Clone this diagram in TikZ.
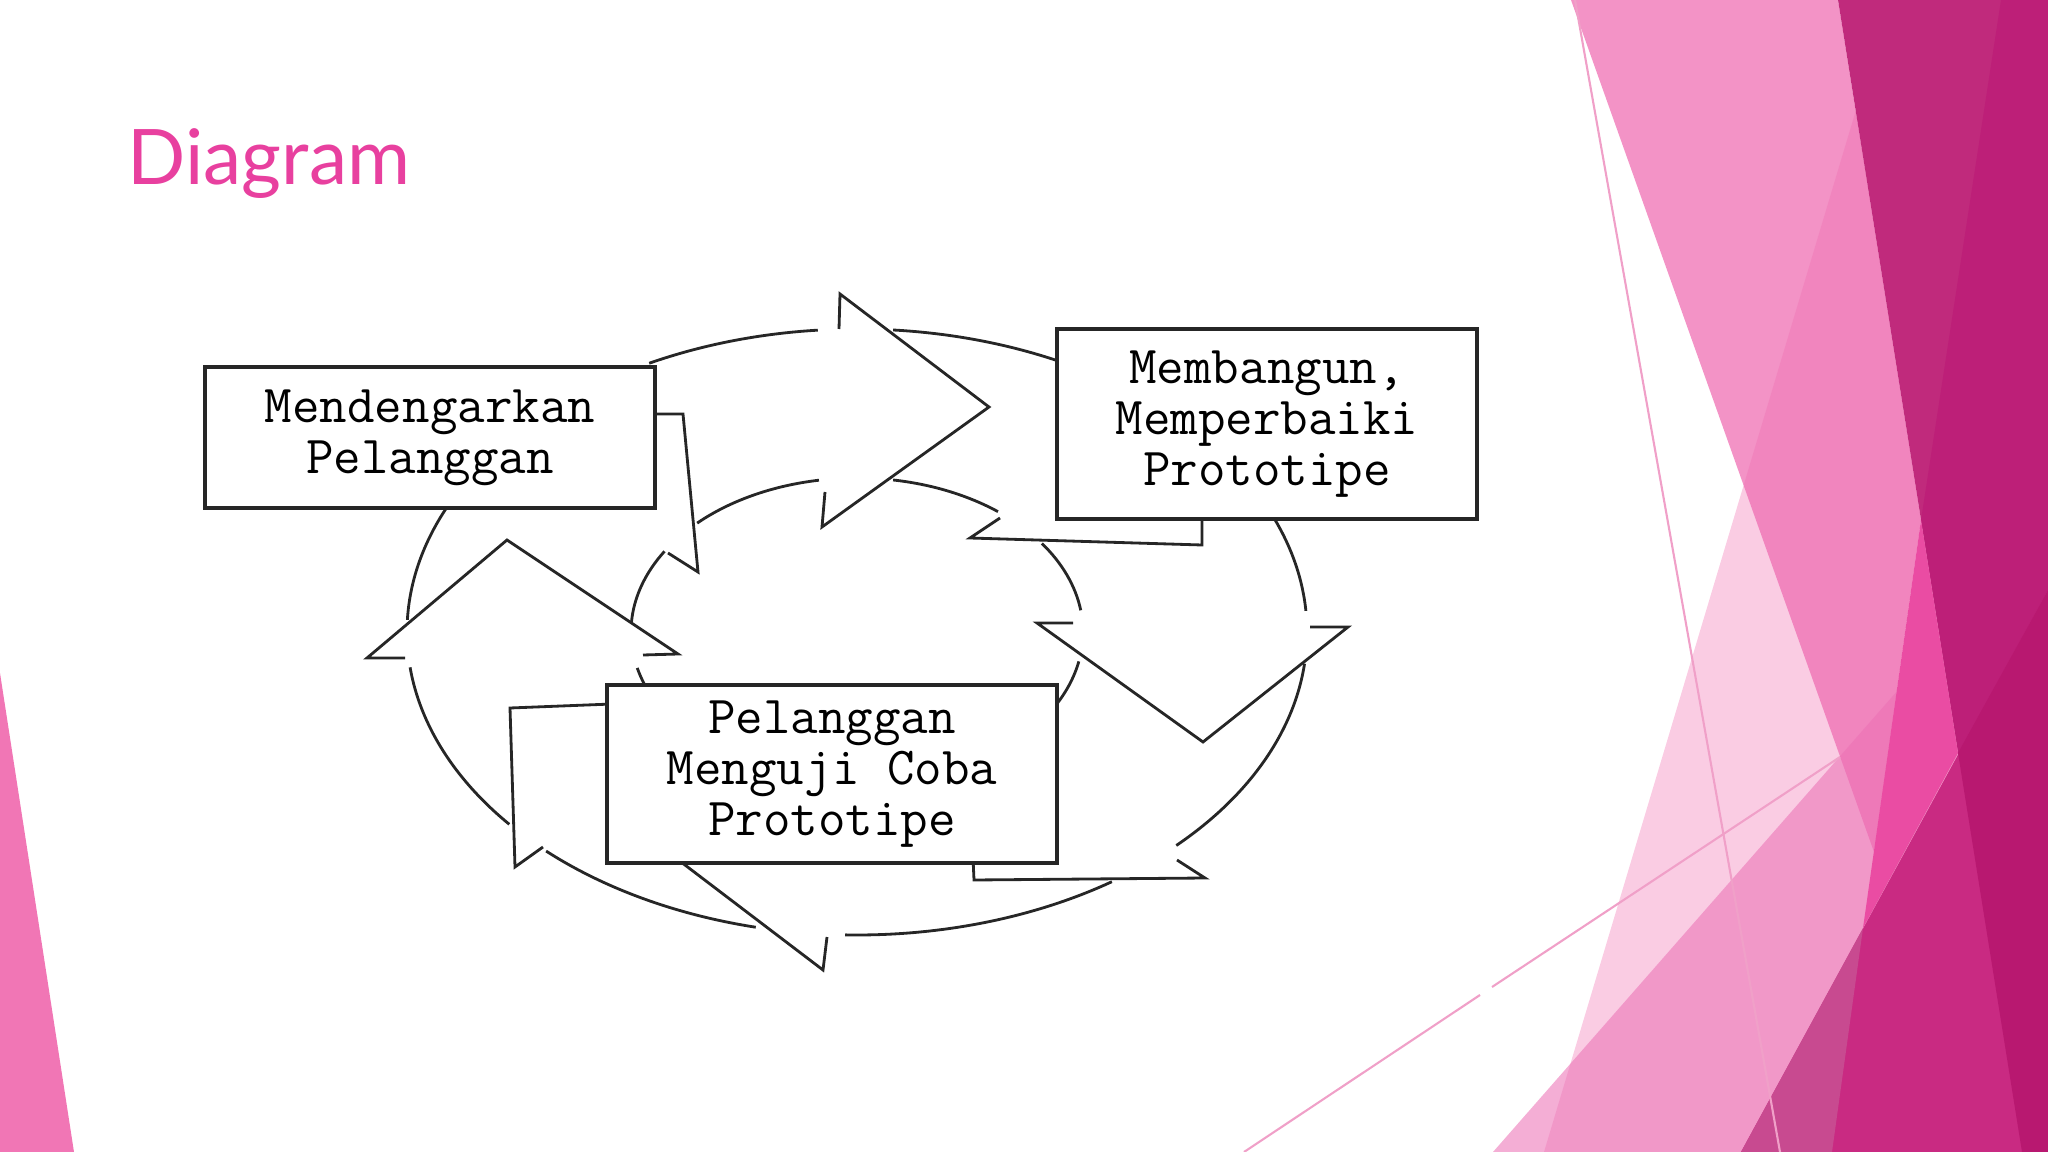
\documentclass[tikz,border=0pt]{standalone}
\usepackage{fontspec}
\newfontfamily\titlefont{Lato}

\definecolor{titlepink}{HTML}{E8409F}
\definecolor{pinkmid}{HTML}{F393C6}
\definecolor{pinktri}{HTML}{F06CB0}
\definecolor{pinkband}{HTML}{EC70B5}
\definecolor{pinkbright}{HTML}{EA4CA3}
\definecolor{pinkleft}{HTML}{F176B5}
\definecolor{thinpink}{HTML}{F0A0C8}
\definecolor{magA}{HTML}{C02A7C}
\definecolor{magB}{HTML}{BD1F78}
\definecolor{magC}{HTML}{C92A82}
\definecolor{magD}{HTML}{B81870}
\definecolor{magE}{HTML}{C84A90}

\begin{document}
\begin{tikzpicture}[x=0.01cm, y=-0.01cm,
  stage/.style = {draw=black!85, line width=1.1pt, fill=white, inner sep=0pt, align=center,
                  font=\ttfamily\fontsize{15.2}{14.5}\selectfont},
  ring/.style = {draw=black!85, line width=0.8pt, line join=miter},
  thin line/.style = {draw=thinpink, line width=0.6pt},
  ]
  \useasboundingbox (0,0) rectangle (2048,1152);

  % slide decoration
  \fill[pinkmid] (1571,0) -- (1838,0) -- (1921,520) -- (1874,852) -- cycle;
  \fill[pinktri, opacity=0.35] (1856,110) -- (1544,1152) -- (2048,1152) -- (2048,110) -- cycle;
  \fill[pinkband, opacity=0.57] (1493,1152) -- (2048,519) -- (2048,1152) -- cycle;
  \fill[magA] (1838,0) -- (2048,0) -- (2048,1152) -- (2022,1152) -- cycle;
  \fill[magB] (2001,0) -- (2048,0) -- (2048,1152) -- (2022,1152) -- (1921,520) -- cycle;
  \fill[pinkbright] (1921,520) -- (1958,753) -- (1863,928) -- cycle;
  \fill[magC] (2048,590) -- (1741,1152) -- (2048,1152) -- cycle;
  \fill[magD] (1958,753) -- (2022,1152) -- (2048,1152) -- (2048,590) -- cycle;
  \fill[magE] (1863,928) -- (1832,1152) -- (1741,1152) -- cycle;
  \draw[thin line] (1575,0) -- (1780,1152);
  \draw[thin line] (1244,1152) -- (1480,995);
  \draw[thin line] (1492,987) -- (1840,757);
  \fill[pinkleft] (0,673) -- (0,1152) -- (74,1152) -- cycle;

  \node[anchor=base west, inner sep=0pt, text=titlepink,
        font=\titlefont\fontsize{21.8}{26}\selectfont] (title) at (127,185) {Diagram};

  \coordinate (ring) at (857,632);

  % outer rim of the cycle
  \draw[ring] ([shift={(-117.5:450 and 303)}]ring) arc[start angle=-117.5, end angle=-95, x radius=450, y radius=303];
  \draw[ring] ([shift={(-85.4:450 and 303)}]ring) arc[start angle=-85.4, end angle=-60, x radius=450, y radius=303];
  \draw[ring] ([shift={(-30:450 and 303)}]ring) arc[start angle=-30, end angle=-4, x radius=450, y radius=303];
  \draw[ring] ([shift={(6:450 and 303)}]ring) arc[start angle=6, end angle=44.8, x radius=450, y radius=303];
  \draw[ring] ([shift={(55.5:450 and 303)}]ring) arc[start angle=55.5, end angle=91.5, x radius=450, y radius=303];
  \draw[ring] ([shift={(103:450 and 303)}]ring) arc[start angle=103, end angle=133.7, x radius=450, y radius=303];
  \draw[ring] ([shift={(140.6:450 and 303)}]ring) arc[start angle=140.6, end angle=173.3, x radius=450, y radius=303];
  \draw[ring] ([shift={(182.3:450 and 303)}]ring) arc[start angle=182.3, end angle=207, x radius=450, y radius=303];

  % inner rim of the cycle
  \draw[ring] ([shift={(-135:226 and 154)}]ring) arc[start angle=-135, end angle=-99.7, x radius=226, y radius=154];
  \draw[ring] ([shift={(-80.8:226 and 154)}]ring) arc[start angle=-80.8, end angle=-51.4, x radius=226, y radius=154];
  \draw[ring] ([shift={(-35.1:226 and 154)}]ring) arc[start angle=-35.1, end angle=-8.1, x radius=226, y radius=154];
  \draw[ring] ([shift={(11:226 and 154)}]ring) arc[start angle=11, end angle=35, x radius=226, y radius=154];
  \draw[ring] ([shift={(166.5:226 and 154)}]ring) arc[start angle=166.5, end angle=155, x radius=226, y radius=154];
  \draw[ring] ([shift={(183.7:226 and 154)}]ring) arc[start angle=183.7, end angle=211.6, x radius=226, y radius=154];

  % tails
  \draw[ring] (650,414) -- (683,414) -- (698,572) -- (668,553);
  \draw[ring] (1202,515) -- (1202,545) -- (970,538) -- (1000,518);
  \draw[ring] (973,858) -- (974,880) -- (1205,878) -- (1177,860);
  \draw[ring] (612,704) -- (510,708) -- (515,867) -- (543,847);

  % heads
  \draw[ring] (839,329) -- (840,294) -- (989,407) -- (822,527) -- (825,492);
  \draw[ring] (1073,623) -- (1037,623) -- (1203,742) -- (1348,627) -- (1310,627);
  \draw[ring] (827,937) -- (823,970) -- (660,846);
  \draw[ring] (405,658) -- (367,658) -- (507,540) -- (678,654) -- (643,655);

  % stages
  \node[stage, minimum width=4.5cm, minimum height=1.41cm] (b1Lis) at (430,437.5)
    {Mendengarkan\\Pelanggan};
  \node[stage, minimum width=4.2cm, minimum height=1.9cm] (b2Bld) at (1267,424)
    {Membangun,\\Memperbaiki\\Prototipe};
  \node[stage, minimum width=4.5cm, minimum height=1.78cm] (b3Tst) at (832,774)
    {Pelanggan\\Menguji Coba\\Prototipe};
\end{tikzpicture}
\end{document}
